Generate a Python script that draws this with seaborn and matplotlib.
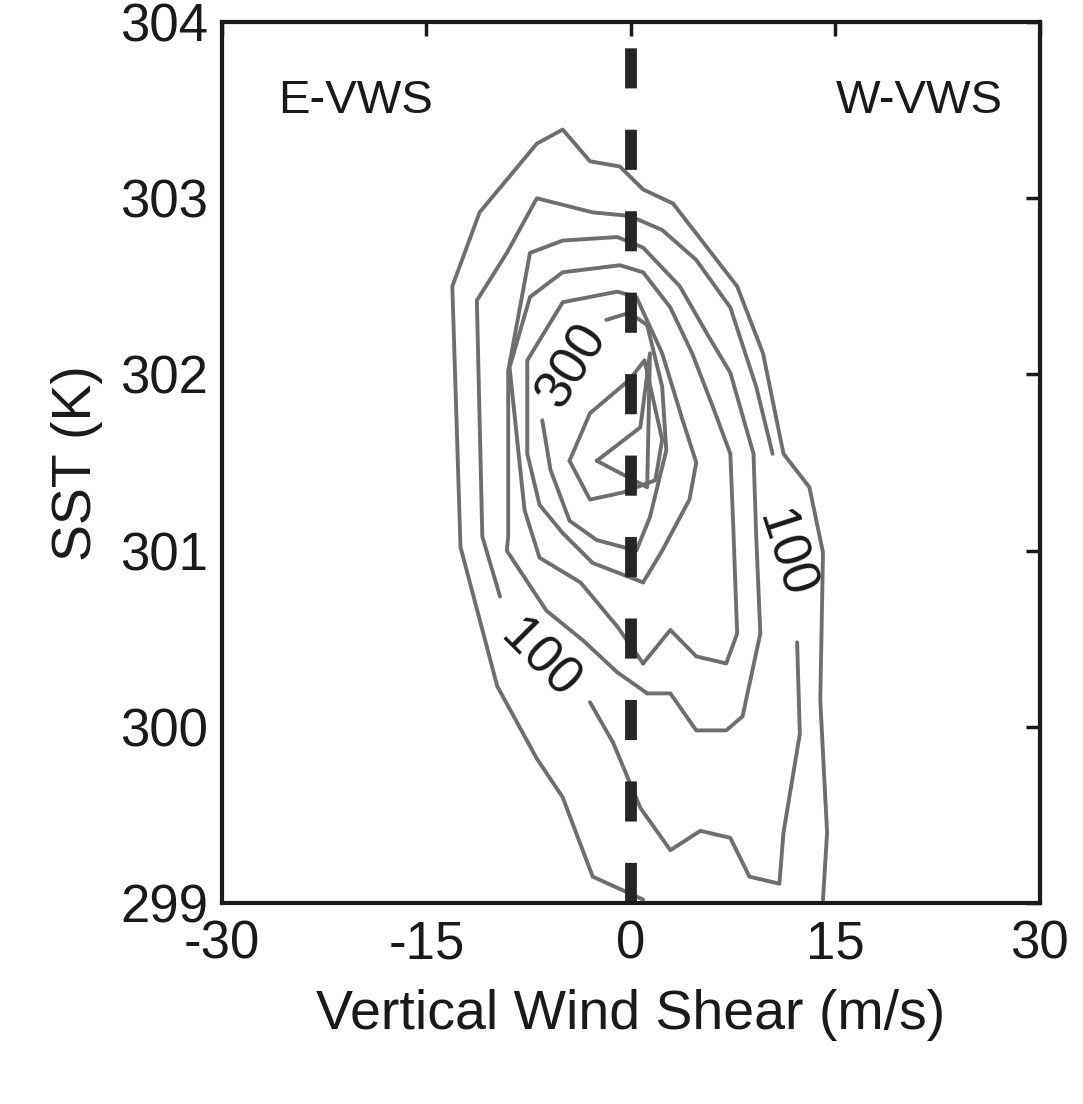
import matplotlib
matplotlib.use("Agg")
import matplotlib.pyplot as plt
import seaborn as sns

sns.set_style("white")
plt.rcParams['font.family'] = ['Liberation Sans', 'DejaVu Sans']

# contour lines (x = shear m/s, y = SST K)
c1_x = [0.9, -2.8, -5.0, -6.9, -9.8, -12.5, -13.1, -11.1, -6.9, -5.0, -3.0, -0.8, 0.9, 3.1, 5.6, 7.8, 9.7, 11.2, 13.1, 14.1, 13.9, 14.4, 14.1]
c1_y = [299.02, 299.15, 299.60, 299.82, 300.23, 301.02, 302.50, 302.92, 303.31, 303.39, 303.21, 303.18, 303.05, 302.97, 302.72, 302.50, 302.12, 301.55, 301.36, 300.99, 300.15, 299.40, 299.02]

c2a_x = [-3.0, -1.3, 0.7, 2.9, 5.1, 7.3, 8.7, 10.9, 11.2, 12.4, 12.2]
c2a_y = [300.14, 299.91, 299.54, 299.30, 299.41, 299.37, 299.15, 299.11, 299.40, 299.96, 300.48]
c2b_x = [10.4, 9.2, 7.3, 4.8, 2.3, -0.1, -2.8, -6.9, -9.1, -11.3, -10.9, -9.6]
c2b_y = [301.55, 301.93, 302.38, 302.65, 302.82, 302.90, 302.92, 303.00, 302.69, 302.42, 301.08, 300.74]

c3_x = [1.2, -1.0, -3.5, -6.2, -9.1, -9.0, -9.0, -7.4, -5.0, -1.0, 0.9, 3.6, 5.6, 7.3, 9.0, 9.2, 9.5, 8.2, 7.0, 4.8, 2.9, 1.2]
c3_y = [300.19, 300.31, 300.49, 300.66, 301.00, 301.08, 302.02, 302.69, 302.76, 302.78, 302.72, 302.50, 302.23, 302.01, 301.55, 301.08, 300.53, 300.06, 299.98, 299.98, 300.19, 300.19]

c4_x = [0.9, -1.0, -3.7, -6.7, -7.8, -8.9, -7.4, -5.0, -0.8, 0.9, 2.9, 4.5, 6.0, 7.3, 7.5, 7.8, 7.0, 4.8, 2.9, 0.9]
c4_y = [300.36, 300.57, 300.82, 300.96, 301.23, 302.04, 302.44, 302.58, 302.62, 302.58, 302.38, 302.12, 301.82, 301.55, 301.17, 300.53, 300.36, 300.40, 300.55, 300.36]

c5_x = [0.9, -0.1, -2.8, -5.0, -6.7, -7.6, -7.6, -5.0, -1.0, 0.4, 2.3, 3.8, 4.8, 4.3, 2.3, 0.9]
c5_y = [300.82, 300.85, 300.93, 301.10, 301.26, 301.55, 302.08, 302.41, 302.47, 302.44, 302.12, 301.74, 301.50, 301.29, 301.00, 300.82]

c6_x = [-1.8, -0.1, 1.2, 2.3, 2.6, 1.4, 0.4, -2.5, -4.5, -5.9, -6.5]
c6_y = [302.31, 302.35, 302.28, 301.93, 301.57, 301.19, 301.00, 301.06, 301.17, 301.46, 301.74]

c7_x = [-4.5, -3.0, -0.1, 1.0, 2.3, 1.8, -0.6, -3.0, -4.5]
c7_y = [301.51, 301.78, 301.97, 302.08, 301.63, 301.40, 301.33, 301.29, 301.51]

c8_x = [-2.5, 0.7, 1.4, 1.2, -2.5]
c8_y = [301.51, 301.70, 302.12, 301.36, 301.51]

segments = [(c1_x, c1_y), (c2a_x, c2a_y), (c2b_x, c2b_y), (c3_x, c3_y), (c4_x, c4_y),
            (c5_x, c5_y), (c6_x, c6_y), (c7_x, c7_y), (c8_x, c8_y)]

labels = ["300", "100", "100"]
label_x = [-4.3, -6.7, 11.3]
label_y = [302.05, 300.38, 300.98]
label_rot = [58, -45, -72]

xticks = [-30, -15, 0, 15, 30]
xticklabels = ["-30", "-15", "0", "15", "30"]
yticks = [299, 300, 301, 302, 303, 304]

fig = plt.figure(figsize=(10.83, 11.04), dpi=100)
ax = fig.add_axes([0.205, 0.182, 0.755, 0.798])

for sx, sy in segments:
    sns.lineplot(x=sx, y=sy, sort=False, estimator=None, color="#6e6e6e", lw=2.8, ax=ax)

ax.plot([0, 0], [299, 304], color="#262626", lw=8.5, dashes=(3.4, 3.5))

for t, lx, ly, r in zip(labels, label_x, label_y, label_rot):
    ax.text(lx, ly, t, fontsize=38, rotation=r, ha="center", va="center", color="#1a1a1a")

ax.text(-20.2, 303.55, "E-VWS", fontsize=34, ha="center", va="center", color="#1a1a1a")
ax.text(21.2, 303.55, "W-VWS", fontsize=34, ha="center", va="center", color="#1a1a1a")

ax.set_xlim(-30, 30)
ax.set_ylim(299, 304)
ax.set_xticks(xticks)
ax.set_xticklabels(xticklabels)
ax.set_yticks(yticks)
ax.tick_params(direction="in", length=10, width=2.5, labelsize=38, pad=12,
               top=True, right=True, colors="#1a1a1a")
ax.tick_params(axis="y", pad=10)
for sp in ax.spines.values():
    sp.set_linewidth(3)
    sp.set_color("#1a1a1a")
ax.set_xlabel("Vertical Wind Shear (m/s)", fontsize=40, labelpad=14, color="#1a1a1a")
ax.set_ylabel("SST (K)", fontsize=40, labelpad=12, color="#1a1a1a")

fig.savefig("out.png", dpi=100)
